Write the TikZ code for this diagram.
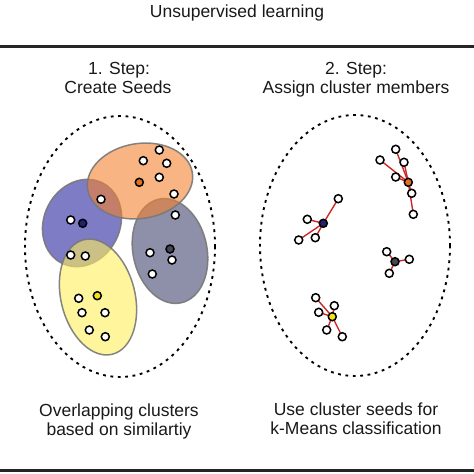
\documentclass[tikz,border=0pt]{standalone}
\usepackage{fontspec}
\setmainfont{Liberation Sans}
\usetikzlibrary{backgrounds}
\definecolor{corange}{RGB}{243,130,47}
\definecolor{cblue}{RGB}{40,36,158}
\definecolor{cgray}{RGB}{67,68,110}
\definecolor{cyellow}{RGB}{255,238,92}
\definecolor{sorange}{RGB}{226,112,36}
\definecolor{sblue}{RGB}{34,34,110}
\definecolor{sgray}{RGB}{70,70,84}
\definecolor{syellow}{RGB}{245,227,26}
\definecolor{linkred}{RGB}{205,40,40}
\definecolor{rim}{RGB}{120,120,120}
\definecolor{txt}{RGB}{25,25,25}
\begin{document}
\begin{tikzpicture}[x=1pt,y=-1pt,
  pt/.style={circle,draw=black,fill=white,line width=1.5pt,inner sep=0pt,minimum size=8pt},
  seedpt/.style={pt,fill=#1},
  lbl/.style={anchor=base,inner sep=0pt,text=txt,font=\fontsize{17.5}{21}\selectfont},
  clu/.style={draw=rim,line width=1.5pt,fill=#1,fill opacity=0.6,draw opacity=0.9},
  link/.style={draw=linkred,line width=1.4pt},
  region/.style={draw=black,line width=1.9pt,dash pattern=on 2.8pt off 4.6pt},
  rule/.style={draw=black!85,line width=2.4pt}]
\useasboundingbox (0,0) rectangle (474,474);

% rules
\draw[rule] (0,46.5) -- (474,46.5);
\draw[rule] (0,470.3) -- (474,470.3);

% texts
\node[lbl] (title) at (237,17.5) {Unsupervised learning};
\node[lbl] (s1a) at (119,74) {1. Step:};
\node[lbl] (s1b) at (118,93) {Create Seeds};
\node[lbl] (s2a) at (356,74) {2. Step:};
\node[lbl] (s2b) at (356,93) {Assign cluster members};
\node[lbl] (c1a) at (119,416) {Overlapping clusters};
\node[lbl] (c1b) at (119,435) {based on similartiy};
\node[lbl] (c2a) at (356,415.5) {Use cluster seeds for};
\node[lbl] (c2b) at (356,434.5) {k-Means classification};

% dashed regions
\draw[region] (120,246.5) ellipse [x radius=95, y radius=130.5];
\draw[region] (355,245.5) ellipse [x radius=95, y radius=130.5];

% cluster ellipses
\path[clu=cblue, rotate around={-27:(82,223)}] (82,223) ellipse [x radius=38, y radius=45];
\path[clu=cgray, rotate around={12:(170,251)}] (170,251) ellipse [x radius=37, y radius=53];
\path[clu=cyellow, rotate around={14:(98,297)}] (98,297) ellipse [x radius=37, y radius=59];
\path[clu=corange, rotate around={9:(140,181)}] (140,181) ellipse [x radius=53, y radius=37.5];

% left points
\node[pt] (lo1) at (159.3,150) {};
\node[pt] (lo2) at (143.3,160.7) {};
\node[pt] (lo3) at (166.7,163.3) {};
\node[pt] (lo4) at (159.3,177.3) {};
\node[seedpt=sorange] (loS) at (139.3,182.3) {};
\node[pt] (lo5) at (174,194) {};
\node[pt] (lb1) at (101,199.3) {};
\node[pt] (lg1) at (175.3,215) {};
\node[pt] (lb2) at (70.7,220) {};
\node[seedpt=sblue] (lbS) at (82.7,223.3) {};
\node[pt] (ly1) at (70.7,255) {};
\node[pt] (ly2) at (85.3,256) {};
\node[pt] (lg2) at (150,252.7) {};
\node[seedpt=sgray] (lgS) at (170,249) {};
\node[pt] (lg3) at (172,260) {};
\node[pt] (lg4) at (152.3,274) {};
\node[pt] (ly3) at (78.7,298.3) {};
\node[seedpt=syellow] (lyS) at (97.3,295.7) {};
\node[pt] (ly4) at (82,312.7) {};
\node[pt] (ly5) at (105,312.7) {};
\node[pt] (ly6) at (89.3,330) {};
\node[pt] (ly7) at (105.3,336.7) {};

% right points
\node[seedpt=sorange] (roS) at (408.3,182.3) {};
\node[pt] (ro1) at (395.7,149.3) {};
\node[pt] (ro2) at (380,160) {};
\node[pt] (ro3) at (404,162.3) {};
\node[pt] (ro4) at (395.7,177) {};
\node[pt] (ro5) at (411.7,193.3) {};
\node[pt] (ro6) at (413.3,214.3) {};
\node[seedpt=sblue] (rbS) at (323.3,223.3) {};
\node[pt] (rb1) at (338.3,198.7) {};
\node[pt] (rb2) at (307.3,219.3) {};
\node[pt] (rb3) at (298.7,240) {};
\node[pt] (rb4) at (315.3,237.7) {};
\node[seedpt=sgray] (rgS) at (395,261.7) {};
\node[pt] (rg1) at (386.7,251.7) {};
\node[pt] (rg2) at (409.3,259.3) {};
\node[pt] (rg3) at (389.3,273.3) {};
\node[seedpt=syellow] (ryS) at (332.3,316.7) {};
\node[pt] (ry1) at (315.7,297.7) {};
\node[pt] (ry2) at (334.3,305.7) {};
\node[pt] (ry3) at (318.7,312.3) {};
\node[pt] (ry4) at (326.7,330) {};
\node[pt] (ry5) at (342.3,336.7) {};

% links (behind points)
\begin{pgfonlayer}{background}
\foreach \m in {ro1,ro2,ro3,ro4,ro5,ro6} \draw[link] (roS.center) -- (\m.center);
\foreach \m in {rb1,rb2,rb3,rb4} \draw[link] (rbS.center) -- (\m.center);
\foreach \m in {rg1,rg2,rg3} \draw[link] (rgS.center) -- (\m.center);
\foreach \m in {ry1,ry2,ry3,ry4,ry5} \draw[link] (ryS.center) -- (\m.center);
\end{pgfonlayer}
\end{tikzpicture}
\end{document}
